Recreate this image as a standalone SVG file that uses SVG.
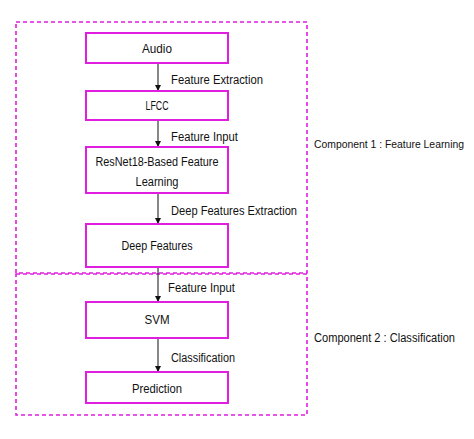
<svg xmlns="http://www.w3.org/2000/svg" width="474" height="439" viewBox="0 0 474 439">
<defs>
<style>
.node{fill:#fff;stroke:#e01ee0;stroke-width:2}
.comp{fill:none;stroke:#e01ee0;stroke-width:1.6;stroke-dasharray:4,3}
.t{font-family:"Liberation Sans",Arial,sans-serif;font-size:12.5px;fill:#111}
.s{font-size:11px}
.c{text-anchor:middle}
.edge{stroke:#111;stroke-width:1;fill:none;marker-end:url(#ah)}
</style>
<marker id="ah" viewBox="0 0 10 10" refX="10" refY="5" markerWidth="6" markerHeight="6" markerUnits="userSpaceOnUse" orient="auto">
<path d="M0,0 L10,5 L0,10 z" fill="#111"/>
</marker>
</defs>
<g id="component1">
<rect class="comp" x="16" y="22" width="291" height="251"/>
<text class="t s" x="314" y="148" textLength="150" lengthAdjust="spacingAndGlyphs">Component 1 : Feature Learning</text>
</g>
<g id="component2">
<rect class="comp" x="16" y="274" width="291" height="141"/>
<text class="t" x="314" y="342" textLength="141" lengthAdjust="spacingAndGlyphs">Component 2 : Classification</text>
</g>
<g id="connectors">
<line class="edge" x1="158" y1="63" x2="158" y2="91"/>
<line class="edge" x1="158" y1="120" x2="158" y2="147"/>
<line class="edge" x1="158" y1="193" x2="158" y2="224"/>
<line class="edge" x1="158" y1="267" x2="158" y2="302"/>
<line class="edge" x1="158" y1="338" x2="158" y2="372"/>
<text class="t" x="171" y="84" textLength="92" lengthAdjust="spacingAndGlyphs">Feature Extraction</text>
<text class="t" x="171" y="141" textLength="67" lengthAdjust="spacingAndGlyphs">Feature Input</text>
<text class="t" x="171" y="215" textLength="126" lengthAdjust="spacingAndGlyphs">Deep Features Extraction</text>
<text class="t" x="168" y="292" textLength="67" lengthAdjust="spacingAndGlyphs">Feature Input</text>
<text class="t" x="171" y="362" textLength="64" lengthAdjust="spacingAndGlyphs">Classification</text>
</g>
<g id="audio">
<rect class="node" x="86" y="33" width="142" height="30"/>
<text class="t c" x="157" y="53" textLength="30" lengthAdjust="spacingAndGlyphs">Audio</text>
</g>
<g id="lfcc">
<rect class="node" x="86" y="91" width="142" height="29"/>
<text class="t c" x="157" y="110" textLength="23" lengthAdjust="spacingAndGlyphs">LFCC</text>
</g>
<g id="resnet">
<rect class="node" x="86" y="147" width="142" height="46"/>
<text class="t c" x="157" y="166" textLength="123" lengthAdjust="spacingAndGlyphs">ResNet18-Based Feature</text>
<text class="t c" x="157" y="186" textLength="43" lengthAdjust="spacingAndGlyphs">Learning</text>
</g>
<g id="deepfeatures">
<rect class="node" x="86" y="224" width="142" height="43"/>
<text class="t c" x="157" y="250" textLength="71" lengthAdjust="spacingAndGlyphs">Deep Features</text>
</g>
<g id="svm">
<rect class="node" x="86" y="302" width="142" height="36"/>
<text class="t c" x="157" y="324" textLength="25" lengthAdjust="spacingAndGlyphs">SVM</text>
</g>
<g id="prediction">
<rect class="node" x="86" y="372" width="142" height="31"/>
<text class="t c" x="157" y="393" textLength="50" lengthAdjust="spacingAndGlyphs">Prediction</text>
</g>
</svg>
